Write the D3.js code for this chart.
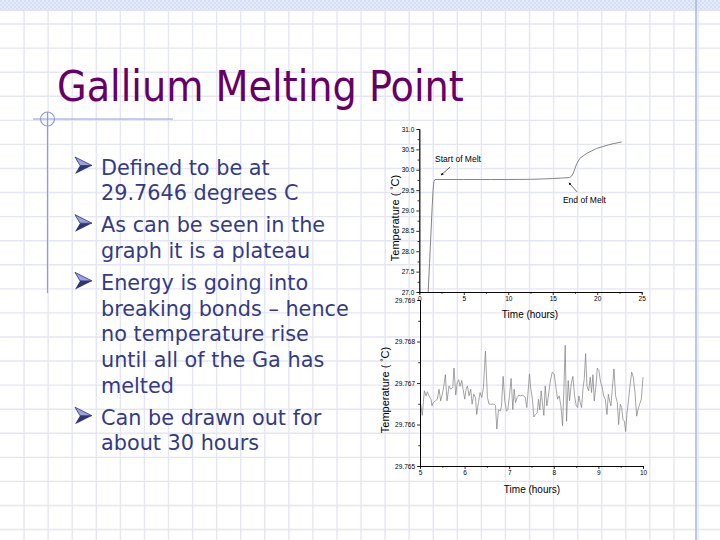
<!DOCTYPE html>
<html>
<head>
<meta charset="utf-8">
<script src="https://cdn.jsdelivr.net/npm/d3@7"></script>
<style>
  body { margin: 0; background: #fff; }
  svg { display: block; }
</style>
</head>
<body>
<div id="slide"></div>
<script>
// melt curve (hours, deg C)
const meltTime = [1.0, 1.15, 1.3, 1.45, 1.55, 1.65, 1.75, 2.0, 5, 8, 10, 12.5, 14, 15, 16, 16.9, 17.1, 17.3, 17.5, 17.7, 18.05, 18.8, 19.9, 21.1, 21.8, 22.75];
const meltTemp = [27.0, 27.7, 28.4, 29.1, 29.5, 29.72, 29.76, 29.76, 29.76, 29.76, 29.76, 29.765, 29.775, 29.785, 29.795, 29.81, 29.84, 29.91, 30.03, 30.15, 30.28, 30.40, 30.52, 30.60, 30.64, 30.68];

// zoom on the plateau (hours, deg C)
const plateauTime = [5.015, 5.052, 5.097, 5.135, 5.165, 5.210, 5.247, 5.269, 5.299, 5.344, 5.389, 5.427, 5.464, 5.494, 5.524, 5.569, 5.606, 5.651, 5.689, 5.734,
  5.763, 5.801, 5.838, 5.868, 5.898, 5.936, 5.966, 6.003, 6.033, 6.063, 6.100, 6.138, 6.168, 6.205, 6.243, 6.272, 6.310, 6.347, 6.385, 6.422,
  6.467, 6.512, 6.549, 6.587, 6.662, 6.692, 6.722, 6.759, 6.796, 6.826, 6.864, 6.901, 6.939, 6.969, 7.006, 7.043, 7.081, 7.111, 7.141, 7.178,
  7.216, 7.260, 7.305, 7.358, 7.395, 7.425, 7.455, 7.485, 7.522, 7.552, 7.590, 7.627, 7.657, 7.687, 7.717, 7.747, 7.777, 7.807, 7.844, 7.874,
  7.919, 7.964, 8.009, 8.054, 8.084, 8.121, 8.159, 8.196, 8.226, 8.256, 8.286, 8.323, 8.353, 8.391, 8.428, 8.466, 8.503, 8.533, 8.563, 8.593,
  8.623, 8.653, 8.683, 8.713, 8.743, 8.780, 8.817, 8.847, 8.877, 8.907, 8.945, 8.975, 9.012, 9.049, 9.087, 9.117, 9.154, 9.192, 9.222, 9.251,
  9.281, 9.311, 9.349, 9.386, 9.424, 9.454, 9.491, 9.521, 9.551, 9.581, 9.611, 9.641, 9.678, 9.708, 9.746, 9.783, 9.820, 9.858, 9.888, 9.925,
  9.963, 10.000];
const plateauTemp = [29.76649, 29.76622, 29.76681, 29.76669, 29.76679, 29.76667, 29.76661, 29.76645, 29.76653, 29.76657, 29.76661, 29.76685, 29.76657, 29.76671, 29.76685, 29.76720, 29.76657, 29.76693, 29.76685, 29.76689,
  29.76736, 29.76671, 29.76702, 29.76708, 29.76692, 29.76706, 29.76685, 29.76661, 29.76685, 29.76693, 29.76669, 29.76685, 29.76649, 29.76673, 29.76665, 29.76624, 29.76653, 29.76677, 29.76665, 29.76689,
  29.76777, 29.76665, 29.76649, 29.76649, 29.76649, 29.76646, 29.76589, 29.76636, 29.76632, 29.76643, 29.76716, 29.76657, 29.76632, 29.76636, 29.76669, 29.76711, 29.76636, 29.76685, 29.76653, 29.76665,
  29.76671, 29.76669, 29.76671, 29.76665, 29.76641, 29.76681, 29.76722, 29.76685, 29.76661, 29.76618, 29.76624, 29.76628, 29.76661, 29.76635, 29.76681, 29.76649, 29.76622, 29.76693, 29.76645, 29.76665,
  29.76702, 29.76726, 29.76722, 29.76685, 29.76661, 29.76669, 29.76645, 29.76597, 29.76685, 29.76791, 29.76608, 29.76706, 29.76657, 29.76698, 29.76716, 29.76669, 29.76645, 29.76641, 29.76669, 29.76653,
  29.76641, 29.76685, 29.76710, 29.76771, 29.76693, 29.76681, 29.76714, 29.76677, 29.76720, 29.76657, 29.76693, 29.76736, 29.76730, 29.76702, 29.76689, 29.76669, 29.76661, 29.76624, 29.76673, 29.76657,
  29.76645, 29.76685, 29.76734, 29.76669, 29.76653, 29.76600, 29.76649, 29.76641, 29.76612, 29.76608, 29.76583, 29.76628, 29.76661, 29.76693, 29.76726, 29.76714, 29.76677, 29.76620, 29.76636, 29.76649,
  29.76661, 29.76714];

const meltXTicks = [0, 5, 10, 15, 20, 25];
const meltYTicks = [27.0, 27.5, 28.0, 28.5, 29.0, 29.5, 30.0, 30.5, 31.0];
const plateauXTicks = [5, 6, 7, 8, 9, 10];
const plateauYTicks = [29.765, 29.766, 29.767, 29.768, 29.769];

const annotations = [
  { label: "Start of Melt", t: 2.45, v: 29.87 },
  { label: "End of Melt", t: 16.82, v: 29.68 }
];

const title = "Gallium Melting Point";
const bullets = [
  ["Defined to be at", "29.7646 degrees C"],
  ["As can be seen in the", "graph it is a plateau"],
  ["Energy is going into", "breaking bonds \u2013 hence", "no temperature rise", "until all of the Ga has", "melted"],
  ["Can be drawn out for", "about 30 hours"]
];

const W = 720, H = 540;
const svg = d3.select("#slide").append("svg").attr("width", W).attr("height", H);

// ---- slide background: graph paper
const defs = svg.append("defs");
const checker = defs.append("pattern").attr("id", "checker")
  .attr("width", 4).attr("height", 4).attr("patternUnits", "userSpaceOnUse");
checker.append("rect").attr("width", 4).attr("height", 4).attr("fill", "#e6ebf9");
checker.append("rect").attr("width", 2).attr("height", 2).attr("fill", "#d6def5");
checker.append("rect").attr("x", 2).attr("y", 2).attr("width", 2).attr("height", 2).attr("fill", "#d6def5");

svg.append("rect").attr("width", W).attr("height", H).attr("fill", "#ffffff");
const step = 24.07;
const gridG = svg.append("g").attr("stroke", "#e5e6f4").attr("stroke-width", 1.4);
gridG.selectAll("line.v").data(d3.range(1, 30)).join("line")
  .attr("x1", d => d * step).attr("x2", d => d * step).attr("y1", 0).attr("y2", H);
gridG.selectAll("line.h").data(d3.range(1, 23)).join("line")
  .attr("y1", d => d * step).attr("y2", d => d * step).attr("x1", 0).attr("x2", W);
svg.append("rect").attr("width", W).attr("height", 11).attr("fill", "url(#checker)");
svg.append("line").attr("x1", 696).attr("x2", 696).attr("y1", 0).attr("y2", H)
  .attr("stroke", "#aab5e6").attr("stroke-width", 1.5);

// crosshair ornament
const orn = svg.append("g").attr("stroke", "#8e9ade").attr("stroke-width", 1.2).attr("fill", "none");
orn.append("line").attr("x1", 33).attr("x2", 173).attr("y1", 119).attr("y2", 119);
orn.append("line").attr("x1", 47.5).attr("x2", 47.5).attr("y1", 112).attr("y2", 293);
orn.append("circle").attr("cx", 47.5).attr("cy", 119).attr("r", 7);

// ---- title
svg.append("text").attr("x", 57).attr("y", 101)
  .attr("font-family", "'DejaVu Sans Condensed', 'DejaVu Sans', sans-serif")
  .attr("font-stretch", "condensed")
  .attr("font-size", 42.5).attr("fill", "#660066")
  .text(title);

// ---- bullets
const textFont = "'DejaVu Sans', Verdana, sans-serif";
let base = 174.5;
bullets.forEach(lines => {
  const g = svg.append("g").attr("transform", `translate(75,${base - 17.5})`);
  g.append("path").attr("d", "M0,0 L17,8.5 L5,8.5 Z").attr("fill", "#9aa3d8").attr("stroke", "#2d3478").attr("stroke-width", 0.8);
  g.append("path").attr("d", "M5,8.5 L17,8.5 L0,17 Z").attr("fill", "#2d3478");
  lines.forEach((ln, i) => {
    svg.append("text").attr("x", 101).attr("y", base + i * 25.7)
      .attr("font-family", textFont)
      .attr("font-size", 20.8).attr("fill", "#343a84").text(ln);
  });
  base += (lines.length - 1) * 25.7 + 32;
});

// ---- charts
const chartFont = "'Liberation Sans', Arial, sans-serif";

function styleAxis(g) {
  g.selectAll("path, line").attr("stroke", "#000").attr("stroke-width", 0.8);
  g.selectAll("text").attr("font-family", chartFont).attr("font-size", 6.5).attr("fill", "#000");
}

function minor(ticks) {
  const out = [];
  for (let i = 0; i < ticks.length - 1; i++) out.push((ticks[i] + ticks[i + 1]) / 2);
  return out;
}

function tempLabel(x, y) {
  const t = svg.append("text").attr("transform", `translate(${x},${y}) rotate(-90)`)
    .attr("text-anchor", "middle").attr("font-family", chartFont).attr("font-size", 11);
  t.append("tspan").text("Temperature  ( ");
  t.append("tspan").attr("dy", -3).attr("font-size", 8).text("\u00B0");
  t.append("tspan").attr("dy", 3).text("C)");
}

// top: whole melt
const x1 = d3.scaleLinear().domain([0, 25]).range([419.3, 641.7]);
const y1 = d3.scaleLinear().domain([27, 31]).range([292, 129]);

svg.append("path")
  .attr("d", d3.line().x((d, i) => x1(meltTime[i])).y(d => y1(d))(meltTemp))
  .attr("fill", "none").attr("stroke", "#858585").attr("stroke-width", 1);

svg.append("g").attr("transform", `translate(${x1.range()[0]},0)`)
  .call(d3.axisLeft(y1).tickValues(minor(meltYTicks)).tickSize(1.8).tickFormat(""))
  .call(styleAxis);
svg.append("g").attr("transform", `translate(${x1.range()[0]},0)`)
  .call(d3.axisLeft(y1).tickValues(meltYTicks).tickSize(3).tickPadding(2).tickFormat(d3.format(".1f")).tickSizeOuter(0))
  .call(styleAxis);
svg.append("g").attr("transform", `translate(0,${y1.range()[0]})`)
  .call(d3.axisBottom(x1).tickValues(minor(meltXTicks)).tickSize(1.8).tickFormat(""))
  .call(styleAxis);
svg.append("g").attr("transform", `translate(0,${y1.range()[0]})`)
  .call(d3.axisBottom(x1).tickValues(meltXTicks).tickSize(3).tickPadding(1.5).tickFormat(d3.format("d")).tickSizeOuter(0))
  .call(styleAxis);

tempLabel(399, 218);
svg.append("text").attr("x", 530).attr("y", 318)
  .attr("text-anchor", "middle").attr("font-family", chartFont).attr("font-size", 10)
  .text("Time (hours)");

// annotations with arrows
const annOffsets = [{ tx: -6, ty: -13, ax: 9, ay: -8 }, { tx: -6, ty: 20.5, ax: 8, ay: 9 }];
defs.append("marker").attr("id", "ah").attr("viewBox", "0 0 10 10").attr("refX", 9).attr("refY", 5)
  .attr("markerWidth", 4.5).attr("markerHeight", 4.5).attr("orient", "auto")
  .append("path").attr("d", "M0,0 L10,5 L0,10 Z").attr("fill", "#000");
annotations.forEach((a, i) => {
  const px = x1(a.t), py = y1(a.v), o = annOffsets[i];
  svg.append("line").attr("x1", px + o.ax).attr("y1", py + o.ay).attr("x2", px).attr("y2", py)
    .attr("stroke", "#000").attr("stroke-width", 0.6).attr("marker-end", "url(#ah)");
  svg.append("text").attr("x", px + o.tx).attr("y", py + o.ty)
    .attr("font-family", chartFont).attr("font-size", 8.5).text(a.label);
});

// bottom: plateau detail
const x2 = d3.scaleLinear().domain([5, 10]).range([420, 643]);
const y2 = d3.scaleLinear().domain([29.765, 29.769]).range([466, 300]);

svg.append("path")
  .attr("d", d3.line().x((d, i) => x2(plateauTime[i])).y(d => y2(d))(plateauTemp))
  .attr("fill", "none").attr("stroke", "#7c7c7c").attr("stroke-width", 0.7);

svg.append("g").attr("transform", `translate(${x2.range()[0]},0)`)
  .call(d3.axisLeft(y2).tickValues(minor(plateauYTicks)).tickSize(1.8).tickFormat(""))
  .call(styleAxis);
svg.append("g").attr("transform", `translate(${x2.range()[0]},0)`)
  .call(d3.axisLeft(y2).tickValues(plateauYTicks).tickSize(3).tickPadding(2).tickFormat(d3.format(".3f")).tickSizeOuter(0))
  .call(styleAxis);
svg.append("g").attr("transform", `translate(0,${y2.range()[0]})`)
  .call(d3.axisBottom(x2).tickValues(minor(plateauXTicks)).tickSize(1.8).tickFormat(""))
  .call(styleAxis);
svg.append("g").attr("transform", `translate(0,${y2.range()[0]})`)
  .call(d3.axisBottom(x2).tickValues(plateauXTicks).tickSize(3).tickPadding(1.5).tickFormat(d3.format("d")).tickSizeOuter(0))
  .call(styleAxis);

tempLabel(389, 390);
svg.append("text").attr("x", 532).attr("y", 493)
  .attr("text-anchor", "middle").attr("font-family", chartFont).attr("font-size", 10)
  .text("Time (hours)");
</script>
</body>
</html>
